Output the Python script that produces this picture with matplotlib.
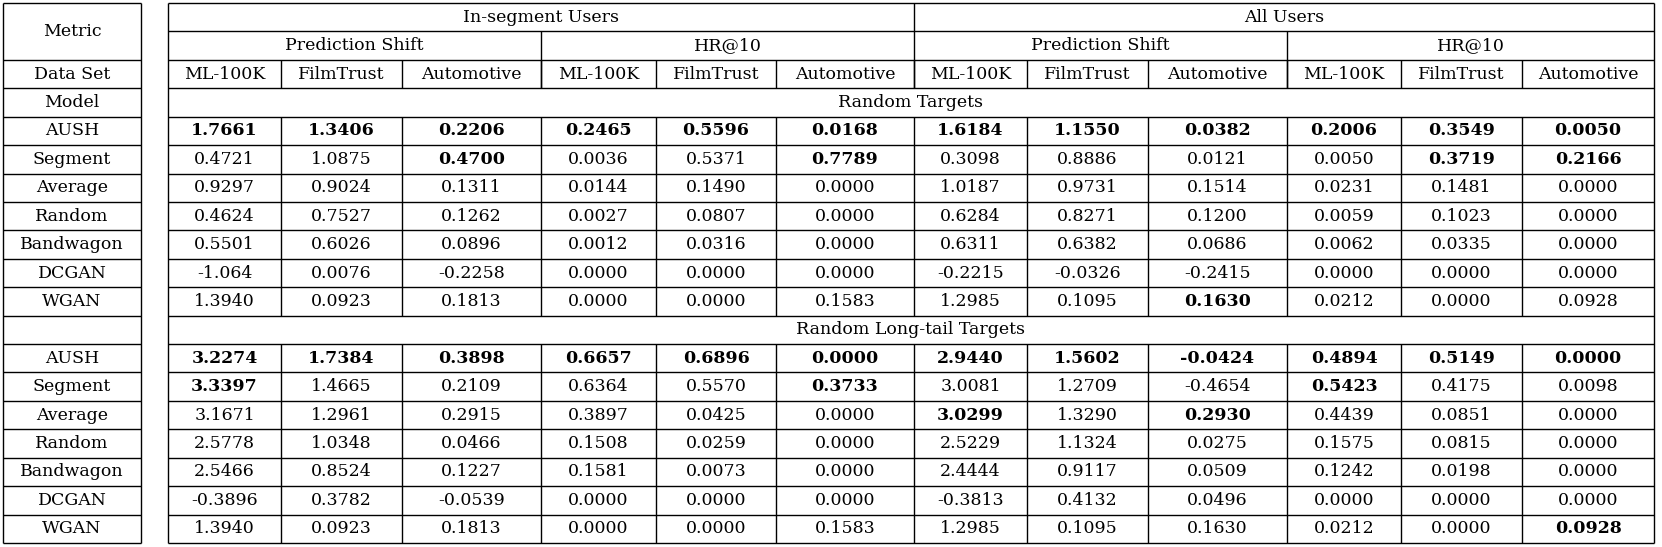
import matplotlib
matplotlib.use("Agg")
import matplotlib.pyplot as plt

models = ["AUSH", "Segment", "Average", "Random", "Bandwagon", "DCGAN", "WGAN"]
groups = ["In-segment Users", "All Users"]
metrics = ["Prediction Shift", "HR@10"]
datasets = ["ML-100K", "FilmTrust", "Automotive"]
sections = ["Random Targets", "Random Long-tail Targets"]

random_targets = [
    "*1.7661 *1.3406 *0.2206 *0.2465 *0.5596 *0.0168 *1.6184 *1.1550 *0.0382 *0.2006 *0.3549 *0.0050",
    "0.4721 1.0875 *0.4700 0.0036 0.5371 *0.7789 0.3098 0.8886 0.0121 0.0050 *0.3719 *0.2166",
    "0.9297 0.9024 0.1311 0.0144 0.1490 0.0000 1.0187 0.9731 0.1514 0.0231 0.1481 0.0000",
    "0.4624 0.7527 0.1262 0.0027 0.0807 0.0000 0.6284 0.8271 0.1200 0.0059 0.1023 0.0000",
    "0.5501 0.6026 0.0896 0.0012 0.0316 0.0000 0.6311 0.6382 0.0686 0.0062 0.0335 0.0000",
    "-1.064 0.0076 -0.2258 0.0000 0.0000 0.0000 -0.2215 -0.0326 -0.2415 0.0000 0.0000 0.0000",
    "1.3940 0.0923 0.1813 0.0000 0.0000 0.1583 1.2985 0.1095 *0.1630 0.0212 0.0000 0.0928",
]
longtail_targets = [
    "*3.2274 *1.7384 *0.3898 *0.6657 *0.6896 *0.0000 *2.9440 *1.5602 *-0.0424 *0.4894 *0.5149 *0.0000",
    "*3.3397 1.4665 0.2109 0.6364 0.5570 *0.3733 3.0081 1.2709 -0.4654 *0.5423 0.4175 0.0098",
    "3.1671 1.2961 0.2915 0.3897 0.0425 0.0000 *3.0299 1.3290 *0.2930 0.4439 0.0851 0.0000",
    "2.5778 1.0348 0.0466 0.1508 0.0259 0.0000 2.5229 1.1324 0.0275 0.1575 0.0815 0.0000",
    "2.5466 0.8524 0.1227 0.1581 0.0073 0.0000 2.4444 0.9117 0.0509 0.1242 0.0198 0.0000",
    "-0.3896 0.3782 -0.0539 0.0000 0.0000 0.0000 -0.3813 0.4132 0.0496 0.0000 0.0000 0.0000",
    "1.3940 0.0923 0.1813 0.0000 0.0000 0.1583 1.2985 0.1095 0.1630 0.0212 0.0000 *0.0928",
]

W, H = 1662, 547
fig = plt.figure(figsize=(W / 100, H / 100), dpi=100)
ax = fig.add_axes([0, 0, 1, 1])
ax.set_xlim(0, W); ax.set_ylim(H, 0); ax.axis("off")

FONT = "DejaVu Serif"
FS = 12.5
lw = 1.0
top, bot = 3, 543
nrows = 19
rh = (bot - top) / nrows
ry = [top + i * rh for i in range(nrows + 1)]
lx0, lx1 = 3, 141
cx = [168, 281, 402, 541, 656, 776, 914, 1027, 1148, 1287, 1401, 1522, 1654]

def hl(y, x0, x1): ax.plot([x0, x1], [y, y], color="black", lw=lw, solid_capstyle="butt")
def vl(x, y0, y1): ax.plot([x, x], [y0, y1], color="black", lw=lw, solid_capstyle="butt")
def txt(x, y, s, bold=False):
    ax.text(x, y, s, ha="center", va="center", fontsize=FS, family=FONT,
            fontweight="bold" if bold else "normal")

# left box
vl(lx0, top, bot); vl(lx1, top, bot)
for i in range(nrows + 1):
    if i != 1:
        hl(ry[i], lx0, lx1)
txt((lx0 + lx1) / 2, (ry[0] + ry[2]) / 2, "Metric")
txt((lx0 + lx1) / 2, (ry[2] + ry[3]) / 2, "Data Set")
txt((lx0 + lx1) / 2, (ry[3] + ry[4]) / 2, "Model")
for k, base in enumerate([4, 12]):
    for j, m in enumerate(models):
        txt((lx0 + lx1) / 2, (ry[base + j] + ry[base + j + 1]) / 2, m)

# main table
for i in range(nrows + 1):
    hl(ry[i], cx[0], cx[-1])
vl(cx[0], top, bot); vl(cx[-1], top, bot)
vl(cx[6], ry[0], ry[3])
vl(cx[3], ry[1], ry[3]); vl(cx[9], ry[1], ry[3])
for c in cx[1:-1]:
    vl(c, ry[2], ry[3])
    vl(c, ry[4], ry[11])
    vl(c, ry[12], ry[19])
for g, name in enumerate(groups):
    txt((cx[6 * g] + cx[6 * g + 6]) / 2, (ry[0] + ry[1]) / 2, name)
    for m, mn in enumerate(metrics):
        a = 6 * g + 3 * m
        txt((cx[a] + cx[a + 3]) / 2, (ry[1] + ry[2]) / 2, mn)
        for d, dn in enumerate(datasets):
            txt((cx[a + d] + cx[a + d + 1]) / 2, (ry[2] + ry[3]) / 2, dn)
for base, sec, rows in [(3, sections[0], random_targets), (11, sections[1], longtail_targets)]:
    txt((cx[0] + cx[-1]) / 2, (ry[base] + ry[base + 1]) / 2, sec)
    for j, row in enumerate(rows):
        for c, v in enumerate(row.split()):
            b = v.startswith("*")
            txt((cx[c] + cx[c + 1]) / 2, (ry[base + 1 + j] + ry[base + 2 + j]) / 2, v.lstrip("*"), b)

fig.savefig("out.png", dpi=100, facecolor="white")
